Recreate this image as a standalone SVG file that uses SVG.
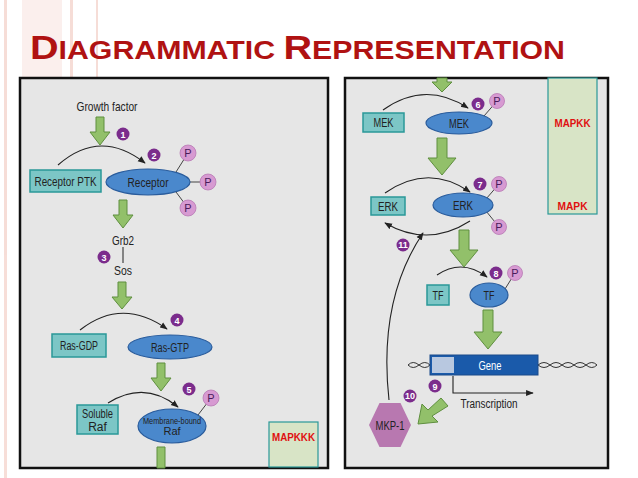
<svg xmlns="http://www.w3.org/2000/svg" width="638" height="478" viewBox="0 0 638 478">
<defs>
<style>
.t{font-family:"Liberation Sans Narrow","Liberation Sans",Arial,sans-serif;fill:#222;text-anchor:middle}
.g{fill:#92c06a;stroke:#5f8f3f;stroke-width:1}
.box{fill:#7cc6c6;stroke:#2a9898;stroke-width:1.5}
.ell{fill:#4a88cc;stroke:#2a5c9c;stroke-width:1.2}
.n{fill:#7b2c8c}
.nt{font-family:"Liberation Sans",Arial,sans-serif;font-size:9px;font-weight:bold;fill:#fff;text-anchor:middle}
.p{fill:#d79ad2;stroke:#b878b4;stroke-width:0.8}
.pt{font-family:"Liberation Sans Narrow","Liberation Sans",sans-serif;font-size:11px;fill:#4a1a5a;text-anchor:middle}
.c{fill:none;stroke:#222;stroke-width:1.1}
.map{font-family:"Liberation Sans Narrow","Liberation Sans",sans-serif;font-weight:bold;font-size:11px;fill:#e01010;text-anchor:middle}
</style>
<marker id="ah" viewBox="0 0 10 10" refX="9" refY="5" markerWidth="7" markerHeight="7" orient="auto"><path d="M0,1 L10,5 L0,9 z" fill="#222"/></marker>
</defs>
<rect width="638" height="478" fill="#fff"/>
<g opacity="0.35">
<rect x="4" y="0" width="3" height="478" fill="#e8a090"/>
<rect x="22" y="0" width="40" height="90" fill="#f6d4cc"/>
<rect x="70" y="0" width="3" height="90" fill="#e8a090"/>
<rect x="96" y="0" width="2" height="90" fill="#e8a090"/>
</g>
<text x="30" y="59" font-family="'Liberation Sans Narrow','Liberation Sans',sans-serif" font-weight="bold" fill="#b01212" font-size="26" textLength="535" lengthAdjust="spacingAndGlyphs"><tspan font-size="34">D</tspan>IAGRAMMATIC <tspan font-size="34">R</tspan>EPRESENTATION</text>

<rect x="20" y="78" width="308" height="390" fill="#e6e6e6" stroke="#111" stroke-width="2.5"/>
<rect x="345" y="78" width="263" height="390" fill="#e6e6e6" stroke="#111" stroke-width="2.5"/>

<g id="connectors">
<path class="c" d="M58,165 Q100,128 145,163" marker-end="url(#ah)"/>
<path class="c" d="M80,330 Q122,297 167,329" marker-end="url(#ah)"/>
<path class="c" d="M108,403 Q145,380 178,407" marker-end="url(#ah)"/>
<line x1="123" y1="247" x2="123" y2="263" stroke="#222" stroke-width="1"/>
<path class="c" d="M383,110 Q425,80 468,108" marker-end="url(#ah)"/>
<path class="c" d="M385,193 Q428,163 470,192" marker-end="url(#ah)"/>
<path class="c" d="M470,221 Q428,248 385,223" marker-end="url(#ah)"/>
<path class="c" d="M389,400 Q378,300 423,233" marker-end="url(#ah)"/>
<path class="c" d="M437,275 Q462,258 487,277" marker-end="url(#ah)"/>
<path class="c" d="M453,376 L453,393 L533,393" marker-end="url(#ah)"/>
<polygon class="g" points="96,117 104,117 104,132 110,132 100,145 90,132 96,132"/>
<polygon class="g" points="119,200 127,200 127,215 133,215 123,228 113,215 119,215"/>
<polygon class="g" points="118,282 126,282 126,297 132,297 122,309 112,297 118,297"/>
<polygon class="g" points="157,363 165,363 165,378 171,378 161,391 151,378 157,378"/>
<polygon class="g" points="157,447 165,447 165,468 157,468"/>
<polygon class="g" points="437,78 447,78 447,82 452,82 442,92 432,82 437,82"/>
<polygon class="g" points="437,138 447,138 447,158 456,158 442,175 428,158 437,158"/>
<polygon class="g" points="459,230 469,230 469,250 478,250 464,267 450,250 459,250"/>
<polygon class="g" points="483,310 493,310 493,332 502,332 488,349 474,332 483,332"/>
<polygon class="g" points="448,406 441,398 428,410 422,404 418,424 438,422 432,416"/>
<path d="M408,365 q5,-5 11,0 t11,0 M408,365 q5,5 11,0 t11,0" fill="none" stroke="#333" stroke-width="1"/>
<path d="M538,365 q6,-5 12,0 t12,0 t12,0 t12,0 t11,0 M538,365 q6,5 12,0 t12,0 t12,0 t12,0 t11,0" fill="none" stroke="#333" stroke-width="1"/>
</g>

<g id="growth-factor"><text class="t" x="107" y="111" font-size="13" textLength="61" lengthAdjust="spacingAndGlyphs">Growth factor</text></g>
<g id="receptor-ptk"><rect class="box" x="30" y="170" width="71" height="22"/><text class="t" x="65.5" y="186" font-size="12" textLength="62" lengthAdjust="spacingAndGlyphs">Receptor PTK</text></g>
<g id="receptor">
<line x1="176" y1="172" x2="188" y2="153" stroke="#444"/><line x1="190" y1="182" x2="208" y2="182" stroke="#444"/><line x1="176" y1="192" x2="188" y2="208" stroke="#444"/>
<ellipse class="ell" cx="148" cy="182" rx="42" ry="13"/><text class="t" x="148" y="186.5" font-size="12" textLength="41" lengthAdjust="spacingAndGlyphs">Receptor</text>
<circle class="p" cx="188" cy="153" r="8"/><text class="pt" x="188" y="157">P</text>
<circle class="p" cx="208" cy="182" r="8"/><text class="pt" x="208" y="186">P</text>
<circle class="p" cx="188" cy="208" r="8"/><text class="pt" x="188" y="212">P</text>
</g>
<g id="grb2"><text class="t" x="123" y="245" font-size="12" textLength="22" lengthAdjust="spacingAndGlyphs">Grb2</text></g>
<g id="sos"><text class="t" x="123" y="275" font-size="12" textLength="18" lengthAdjust="spacingAndGlyphs">Sos</text></g>
<g id="ras-gdp"><rect class="box" x="52" y="334" width="54" height="23"/><text class="t" x="79" y="350" font-size="12" textLength="38" lengthAdjust="spacingAndGlyphs">Ras-GDP</text></g>
<g id="ras-gtp"><ellipse class="ell" cx="170" cy="347" rx="42" ry="12"/><text class="t" x="170" y="351.5" font-size="12" textLength="38" lengthAdjust="spacingAndGlyphs">Ras-GTP</text></g>
<g id="soluble-raf"><rect class="box" x="77" y="405" width="41" height="29"/><text class="t" x="97.5" y="418" font-size="12" textLength="31" lengthAdjust="spacingAndGlyphs">Soluble</text><text class="t" x="97.5" y="431" font-size="12">Raf</text></g>
<g id="membrane-raf">
<line x1="198" y1="415" x2="211" y2="398" stroke="#444"/>
<ellipse class="ell" cx="172" cy="426" rx="34" ry="17"/><text class="t" x="172" y="424" font-size="9" textLength="58" lengthAdjust="spacingAndGlyphs">Membrane-bound</text><text class="t" x="172" y="435" font-size="11">Raf</text>
<circle class="p" cx="211" cy="398" r="8"/><text class="pt" x="211" y="402">P</text>
</g>
<g id="mapkkk"><rect x="269" y="422" width="49" height="45" fill="#d8e4c6" stroke="#2a9898" stroke-width="1.2"/><text class="map" x="293.5" y="441" textLength="43" lengthAdjust="spacingAndGlyphs">MAPKKK</text></g>

<g id="mek-inactive"><rect class="box" x="363" y="113" width="41" height="19"/><text class="t" x="383.5" y="127" font-size="12" textLength="20" lengthAdjust="spacingAndGlyphs">MEK</text></g>
<g id="mek-active">
<line x1="484" y1="116" x2="497" y2="101" stroke="#444"/>
<ellipse class="ell" cx="459" cy="123" rx="33" ry="11"/><text class="t" x="459" y="127.5" font-size="12" textLength="20" lengthAdjust="spacingAndGlyphs">MEK</text>
<circle class="p" cx="497" cy="101" r="7.5"/><text class="pt" x="497" y="105">P</text>
</g>
<g id="erk-inactive"><rect class="box" x="371" y="197" width="34" height="18"/><text class="t" x="388" y="210.5" font-size="12" textLength="20" lengthAdjust="spacingAndGlyphs">ERK</text></g>
<g id="erk-active">
<line x1="486" y1="199" x2="499" y2="184" stroke="#444"/><line x1="486" y1="211" x2="499" y2="227" stroke="#444"/>
<ellipse class="ell" cx="463" cy="205" rx="30" ry="12"/><text class="t" x="463" y="209.5" font-size="12" textLength="20" lengthAdjust="spacingAndGlyphs">ERK</text>
<circle class="p" cx="499" cy="184" r="7.5"/><text class="pt" x="499" y="188">P</text>
<circle class="p" cx="499" cy="227" r="7.5"/><text class="pt" x="499" y="231">P</text>
</g>
<g id="mapk-box"><rect x="548" y="78" width="49" height="136" fill="#d8e4c6" stroke="#2a9898" stroke-width="1.2"/><text class="map" x="572.5" y="127" textLength="36" lengthAdjust="spacingAndGlyphs">MAPKK</text><text class="map" x="572.5" y="210" textLength="30" lengthAdjust="spacingAndGlyphs">MAPK</text></g>
<g id="tf-inactive"><rect class="box" x="427" y="285" width="22" height="20"/><text class="t" x="438" y="299.5" font-size="12" textLength="11" lengthAdjust="spacingAndGlyphs">TF</text></g>
<g id="tf-active">
<line x1="505" y1="289" x2="515" y2="273" stroke="#444"/>
<ellipse class="ell" cx="489" cy="295" rx="19" ry="12"/><text class="t" x="489" y="299.5" font-size="12" textLength="11" lengthAdjust="spacingAndGlyphs">TF</text>
<circle class="p" cx="515" cy="273" r="7.5"/><text class="pt" x="515" y="277">P</text>
</g>
<g id="gene"><rect x="430" y="355" width="108" height="20" fill="#1a5aaa" stroke="#1a4a8a"/><rect x="432" y="357" width="22" height="16" fill="#b8c8e0"/><text x="490" y="369.5" font-family="'Liberation Sans Narrow','Liberation Sans',sans-serif" font-size="12" fill="#fff" text-anchor="middle" textLength="23" lengthAdjust="spacingAndGlyphs">Gene</text></g>
<g id="transcription"><text class="t" x="489" y="408" font-size="12" textLength="57" lengthAdjust="spacingAndGlyphs">Transcription</text></g>
<g id="mkp1"><polygon points="369,425 379.5,403 400.5,403 411,425 400.5,447 379.5,447" fill="#b878b0"/><text class="t" x="390" y="429.5" font-size="12" textLength="29" lengthAdjust="spacingAndGlyphs">MKP-1</text></g>

<g id="numbers">
<circle class="n" cx="123" cy="134" r="6.5"/><text class="nt" x="123" y="137.5">1</text>
<circle class="n" cx="154" cy="155" r="6.5"/><text class="nt" x="154" y="158.5">2</text>
<circle class="n" cx="104" cy="257" r="6.5"/><text class="nt" x="104" y="260.5">3</text>
<circle class="n" cx="177" cy="320" r="6.5"/><text class="nt" x="177" y="323.5">4</text>
<circle class="n" cx="189" cy="389" r="6.5"/><text class="nt" x="189" y="392.5">5</text>
<circle class="n" cx="478" cy="104" r="6.5"/><text class="nt" x="478" y="107.5">6</text>
<circle class="n" cx="480" cy="184" r="6.5"/><text class="nt" x="480" y="187.5">7</text>
<circle class="n" cx="496" cy="273" r="6.5"/><text class="nt" x="496" y="276.5">8</text>
<circle class="n" cx="435" cy="386" r="6.5"/><text class="nt" x="435" y="389.5">9</text>
<circle class="n" cx="410" cy="396" r="6.5"/><text class="nt" x="410" y="399" font-size="7.5">10</text>
<circle class="n" cx="403" cy="245" r="6.5"/><text class="nt" x="403" y="248" font-size="7.5">11</text>
</g>
</svg>
